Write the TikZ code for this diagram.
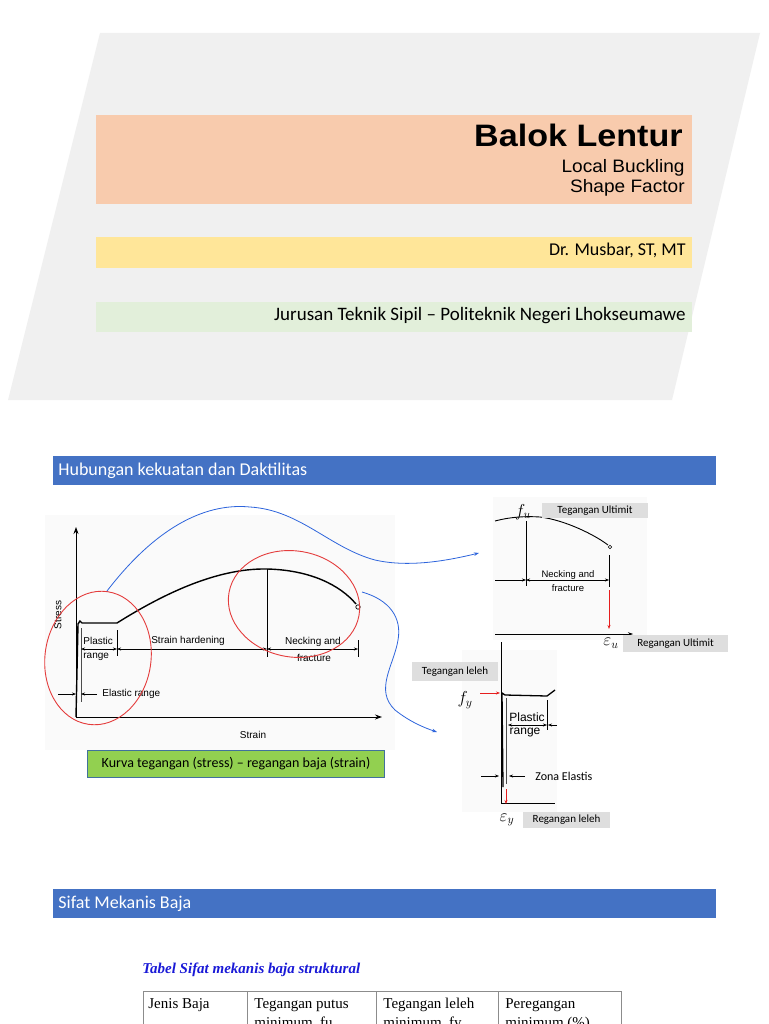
\documentclass[tikz,border=0pt]{standalone}
\usepackage{fontspec}
\setmainfont{Liberation Sans}
\newfontfamily\calibri{Carlito}
\newfontfamily\timesf{Liberation Serif}
\usetikzlibrary{positioning,arrows.meta}

\definecolor{bandblue}{RGB}{68,114,196}
\definecolor{barorange}{RGB}{248,203,173}
\definecolor{baryellow}{RGB}{255,230,153}
\definecolor{bargreen}{RGB}{226,239,218}
\definecolor{labelgreen}{RGB}{146,208,80}
\definecolor{labeledge}{RGB}{65,113,156}
\definecolor{taggrey}{RGB}{222,222,222}
\definecolor{ringred}{RGB}{228,60,60}
\definecolor{linkblue}{RGB}{45,100,220}
\definecolor{tabblue}{RGB}{25,25,215}

\tikzset{every picture/.style={line width=0.75pt}}
\tikzset{
  band/.style={fill=bandblue, minimum width=663pt, minimum height=29pt, anchor=north west, inner sep=0pt},
  bandtext/.style={text=white, font=\calibri\fontsize{18}{20}\selectfont, anchor=base west, inner sep=0pt},
  titlebar/.style={minimum width=596pt, anchor=north west, inner sep=0pt},
  bartext/.style={font=\calibri\fontsize{18}{20}\selectfont, anchor=base east, inner sep=0pt},
  graphtext/.style={font=\fontsize{10}{11}\selectfont, inner sep=0pt},
  tinytext/.style={font=\fontsize{9.5}{10}\selectfont, inner sep=0pt},
  greytag/.style={fill=taggrey, font=\calibri\fontsize{11}{12}\selectfont, inner sep=0pt},
  mathlabel/.style={font=\fontsize{17}{18}\selectfont, inner sep=0pt},
  dimline/.style={{Stealth[length=4pt,width=3pt]}-{Stealth[length=4pt,width=3pt]}, line width=0.5pt},
  onearrow/.style={-{Stealth[length=4pt,width=3pt]}, line width=0.5pt},
  redarrow/.style={-{Stealth[length=4pt,width=3pt]}, draw={rgb,255:red,230; green,30; blue,30}, line width=0.9pt},
  ring/.style={draw=ringred, line width=0.9pt},
  link/.style={draw=linkblue, line width=0.8pt, -{Stealth[length=5pt,width=3.5pt]}},
  tabtext/.style={font=\timesf\fontsize{15}{19}\selectfont, anchor=base west, inner sep=0pt}
}

\begin{document}
\begin{tikzpicture}[x=1pt,y=1pt,yscale=-1]
\useasboundingbox (0,0) rectangle (768,1024);
\fill[white] (0,0) rectangle (768,1024);

%Shape: Parallelogram
\fill[black!6] (100,33) -- (760,33) -- (672,400) -- (8,400) -- cycle;

% title bars
\node[titlebar, fill=barorange, minimum height=89pt] (orangebar) at (96,115) {};
\node[titlebar, fill=baryellow, minimum height=31pt] (yellowbar) at (96,237) {};
\node[titlebar, fill=bargreen, minimum height=30pt] (greenbar) at (96,302) {};

% Text Node
\node[font=\bfseries\fontsize{31}{31}\selectfont, anchor=base east, inner sep=0pt] (balok) at (683,147) {\scalebox{1.1}[1]{Balok Lentur}};
\node[font=\fontsize{18}{18}\selectfont, anchor=base east, inner sep=0pt] (buckling) at (685,173) {\scalebox{1.06}[1]{Local Buckling}};
\node[font=\fontsize{18}{18}\selectfont, anchor=base east, inner sep=0pt] (shape) at (685,193) {\scalebox{1.06}[1]{Shape Factor}};
\node[bartext] (author) at (686,255) {Dr. Musbar, ST, MT};
\node[bartext, font=\calibri\fontsize{19}{20}\selectfont] (dept) at (686,320) {Jurusan Teknik Sipil – Politeknik Negeri Lhokseumawe};

% section bands
\node[band] (hubband) at (53,456) {};
\node[bandtext] (hubtext) at (58,475) {Hubungan kekuatan dan Daktilitas};
\node[band] (sifatband) at (53,889) {};
\node[bandtext] (sifattext) at (58,908) {Sifat Mekanis Baja};

% graph backgrounds
\fill[black!2] (45,515) rectangle (395,750);
\fill[black!2] (493,497) rectangle (647,640);
\fill[black!2] (462,650) rectangle (557,812);

%Shape: Axis 2D (main)
\coordinate (O) at (76,717);
\draw[-{Stealth[length=7pt,width=5pt]}, line width=0.9pt] (O) -- (76,527);
\draw[-{Stealth[length=7pt,width=5pt]}, line width=0.9pt] (O) -- (382,717);
\node[graphtext, rotate=90] (stress) at (58,615) {Stress};
\node[graphtext] (strain) at (253,735) {Strain};

% stress-strain curve
\draw[line width=1.4pt] (O) -- (78,624) -- (80,621) -- (82,623) -- (117,623)
  .. controls (160,596) and (215,568) .. (267,569)
  .. controls (310,570) and (340,585) .. (356,604);
\draw[line width=0.7pt] (358,607) circle (2.2);
\draw[line width=0.5pt, black!70] (81,628) -- (81,702);

% ticks
\coordinate (pA) at (81,649);
\coordinate (pB) at (117,649);
\coordinate (pC) at (267,649);
\coordinate (pD) at (358,649);
\draw[line width=0.5pt] (117,630) -- (117,656);
\draw[line width=0.5pt] (267,569) -- (267,657);
\draw[line width=0.5pt] (358,640) -- (358,657);
\draw[dimline] (pA) -- (pB);
\draw[dimline] (pB) -- (pC);
\draw[dimline] (pC) -- (pD);

\node[graphtext, anchor=west] (plastic) at (83,641) {Plastic};
\node[graphtext, anchor=west] (range) at (83,657) {range};
\node[graphtext] (hardening) at (188,641) {Strain hardening};
\node[graphtext] (necking) at (313,642) {Necking and};
\node[graphtext] (fracture) at (314,658) {fracture};

% elastic range
\coordinate (eL) at (76,694);
\coordinate (eR) at (81,694);
\draw[onearrow] (58,694) -- (eL);
\draw[onearrow] (97,694) -- (eR);
\node[graphtext, anchor=west] (elastic) at (102,694) {Elastic range};

%Shape: Ellipse
\draw[ring] (98,658) ellipse [x radius=53, y radius=67, rotate=8];
\draw[ring] (294,604) ellipse [x radius=66, y radius=53, rotate=10];

% caption
\node[fill=labelgreen, draw=labeledge, line width=0.6pt, minimum width=297pt, minimum height=27pt, inner sep=0pt, font=\calibri\fontsize{14}{15}\selectfont] (caption) at (236,764) {Kurva tegangan (stress) – regangan baja (strain)};

%Shape: Upper right graph
\draw[line width=0.9pt] (495,521) .. controls (510,517) and (525,516) .. (540,517)
  .. controls (565,520) and (595,535) .. (608,545);
\draw[line width=0.6pt] (610,547) circle (1.8);
\draw[line width=0.5pt] (526,521) -- (526,586);
\draw[line width=0.5pt] (609,555) -- (609,587);
\coordinate (uA) at (526,580);
\coordinate (uB) at (609,580);
\draw[onearrow] (495,580) -- (uA);
\draw[dimline] (uA) -- (uB);
\node[tinytext] (necku) at (568,575) {Necking and};
\node[tinytext] (fracu) at (568,588) {fracture};
\coordinate (uC) at (609,590);
\coordinate (uD) at (609,629);
\draw[redarrow] (uC) -- (uD);
\draw[-{Stealth[length=5pt,width=3.5pt]}, line width=0.6pt] (495,634) -- (633,634);
\node[mathlabel] (fu) at (523,512) {$f_u$};
\node[mathlabel] (epsu) at (611,643) {$\varepsilon_u$};
\node[greytag, minimum width=106pt, minimum height=15pt] (tegult) at (595,510.5) {Tegangan Ultimit};
\node[greytag, minimum width=105pt, minimum height=17pt] (regult) at (675.5,643.5) {Regangan Ultimit};

%Shape: Lower right graph
\draw[line width=1pt] (501,642) -- (501,803) -- (555,803);
\draw[line width=1.3pt] (503,787) -- (502,693) -- (505,695) -- (547,696) -- (555,690);
\draw[line width=0.5pt, black!70] (506,698) -- (506,784);
\draw[line width=0.5pt] (547,700) -- (547,730);
\coordinate (lA) at (508,725);
\coordinate (lB) at (547,725);
\draw[dimline] (lA) -- (lB);
\draw[onearrow] (557,725) -- (548,725);
\node[font=\fontsize{12}{13}\selectfont, inner sep=0pt] (plasticl) at (527,717) {Plastic};
\node[font=\fontsize{12}{13}\selectfont, inner sep=0pt] (rangel) at (525,733) {range};
\coordinate (zL) at (499,776);
\coordinate (zR) at (509,776);
\draw[onearrow] (481,776) -- (zL);
\draw[onearrow] (525,776) -- (zR);
\node[greytag, fill=none, anchor=west, font=\calibri\fontsize{12}{13}\selectfont] (zona) at (535,776) {Zona Elastis};
\coordinate (fyA) at (480,693);
\coordinate (fyB) at (500,693);
\draw[redarrow] (fyA) -- (fyB);
\coordinate (eyA) at (506,789);
\coordinate (eyB) at (506,804);
\draw[redarrow] (eyA) -- (eyB);
\node[mathlabel] (fy) at (465,700) {$f_y$};
\node[mathlabel] (epsy) at (507,820) {$\varepsilon_y$};
\node[greytag, minimum width=86pt, minimum height=19pt] (tegleleh) at (455,671.5) {Tegangan leleh};
\node[greytag, minimum width=87pt, minimum height=16pt] (regleleh) at (566.5,820) {Regangan leleh};

% blue links
\coordinate (l1s) at (107,591);
\coordinate (l2s) at (362,592);
\draw[link] (l1s) .. controls (160,522) and (210,503) .. (250,507)
  .. controls (300,510) and (330,548) .. (375,560)
  .. controls (410,568) and (450,560) .. (479,553);
\draw[link] (l2s) .. controls (390,600) and (402,618) .. (398,640)
  .. controls (394,665) and (374,690) .. (395,710)
  .. controls (410,722) and (425,728) .. (437,732);

% table
\node[font=\timesf\bfseries\itshape\fontsize{15}{17}\selectfont, text=tabblue, anchor=base west, inner sep=0pt] (tabtitle) at (142,973) {Tabel Sifat mekanis baja struktural};
\draw[black!45, line width=0.8pt] (143,1040) -- (143,991) -- (621,991) -- (621,1040);
\draw[black!45, line width=0.8pt] (247,991) -- (247,1040);
\draw[black!45, line width=0.8pt] (376,991) -- (376,1040);
\draw[black!45, line width=0.8pt] (498,991) -- (498,1040);
\node[tabtext] (jenis) at (148,1008) {Jenis Baja};
\node[tabtext] (putus) at (254,1008) {Tegangan putus};
\node[tabtext] (putusb) at (254,1027) {minimum, fu};
\node[tabtext] (leleh) at (383,1008) {Tegangan leleh};
\node[tabtext] (lelehb) at (383,1027) {minimum, fy};
\node[tabtext] (regang) at (505,1008) {Peregangan};
\node[tabtext] (regangb) at (505,1027) {minimum (\%)};

\end{tikzpicture}
\end{document}
